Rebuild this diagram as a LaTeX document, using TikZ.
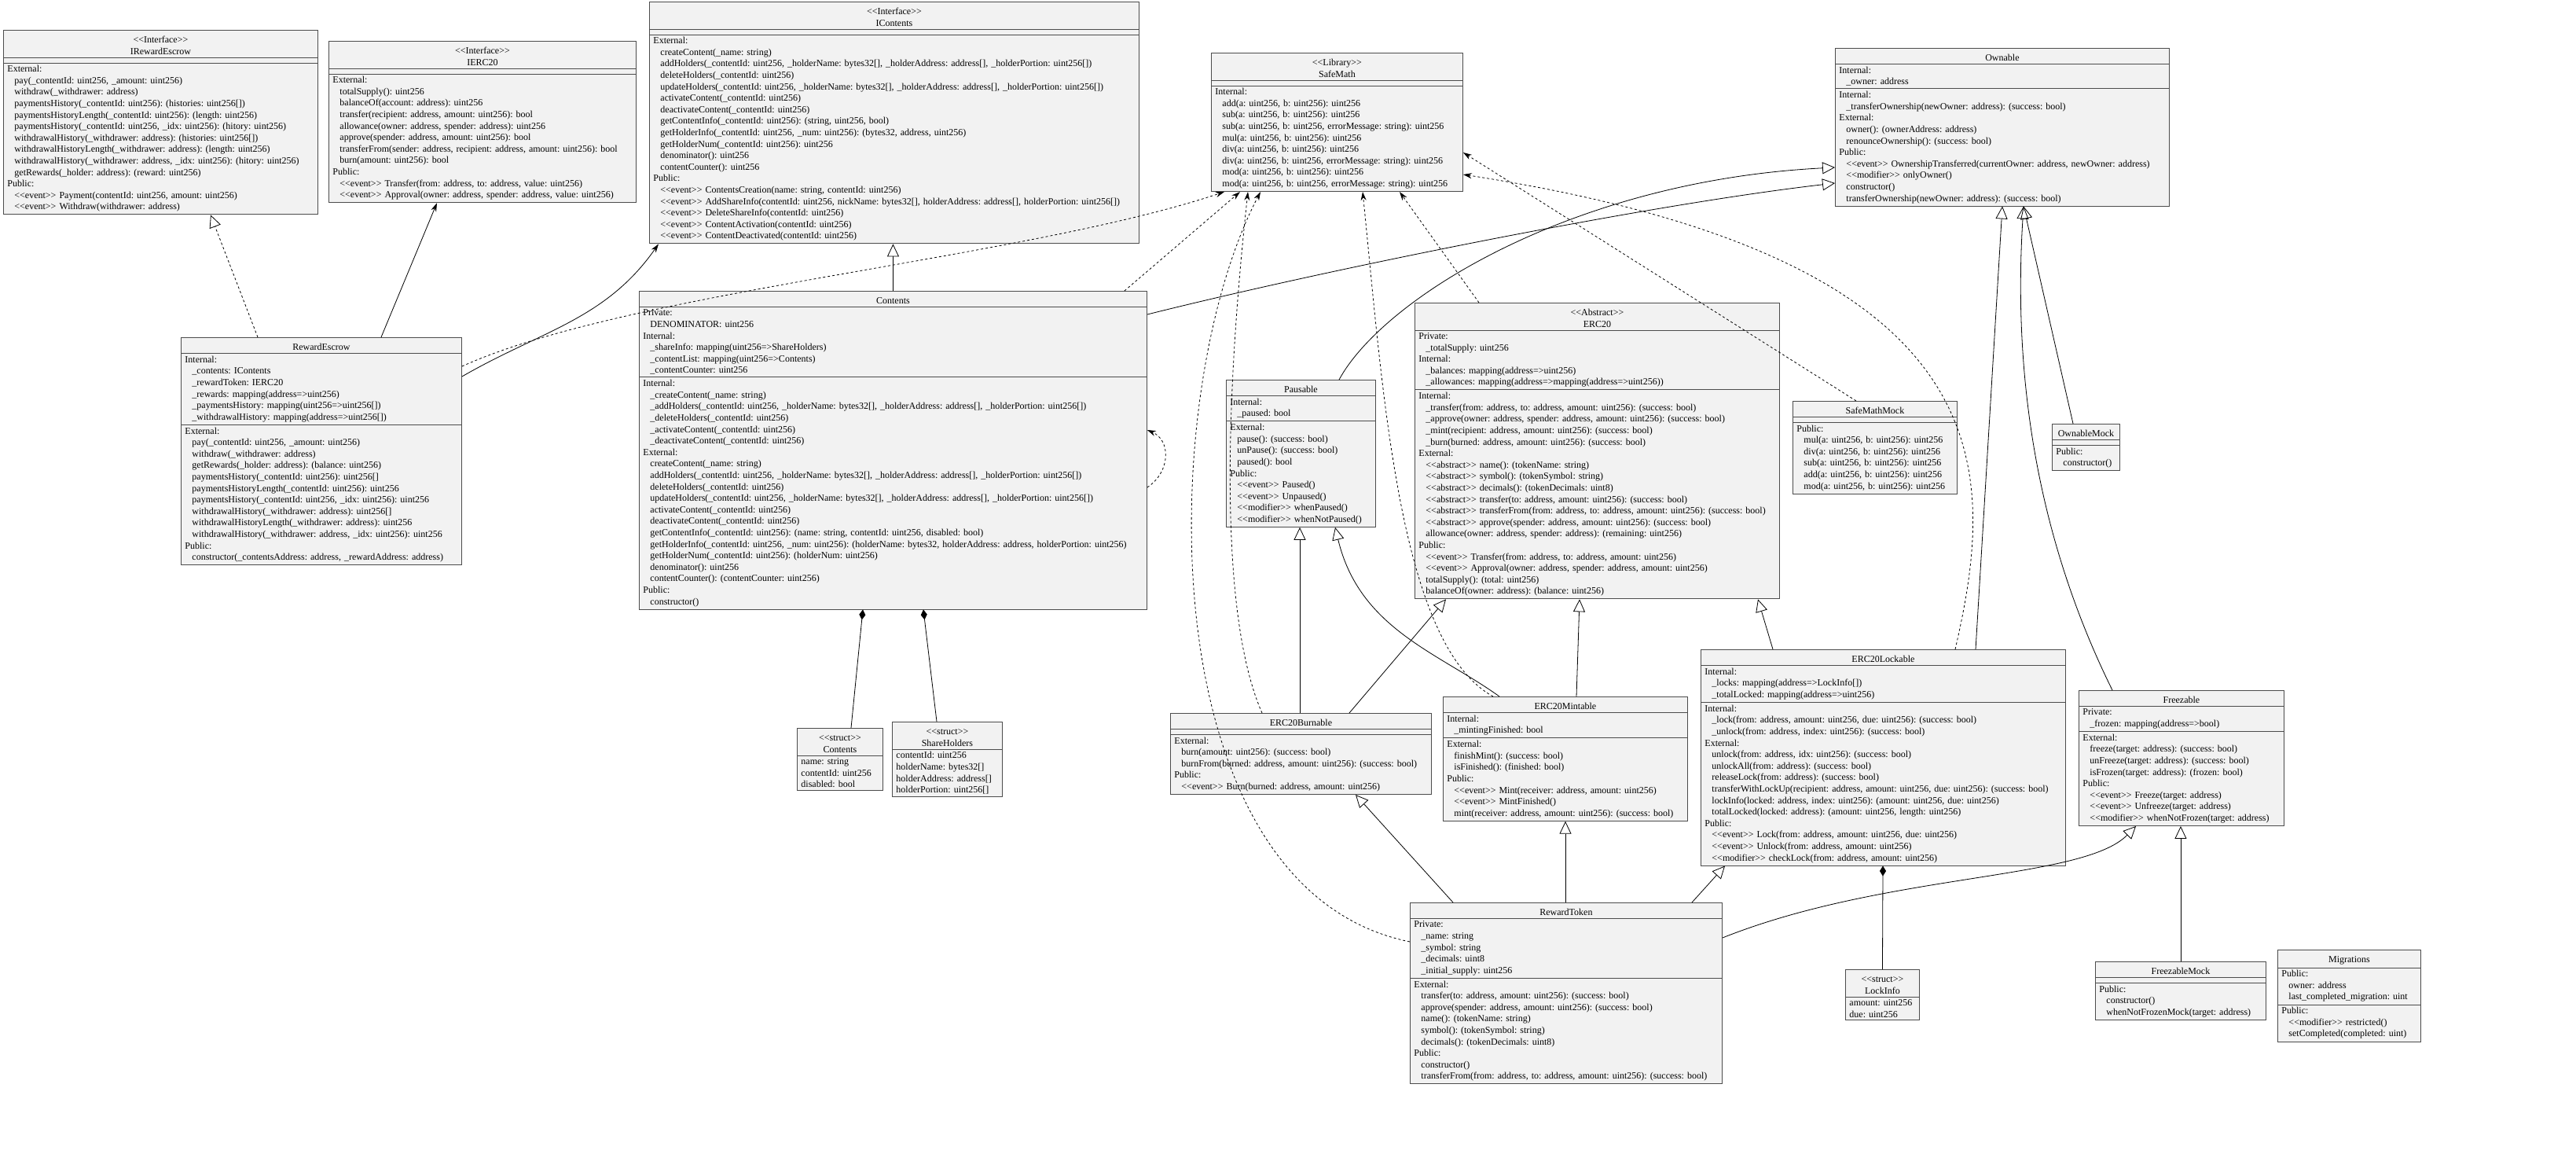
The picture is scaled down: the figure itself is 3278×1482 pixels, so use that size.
\documentclass[tikz,border=0pt]{standalone}
\usepackage{fontspec}
\setmainfont{Liberation Serif}
\frenchspacing
\usetikzlibrary{shapes.multipart,arrows.meta,calc}
\newcommand\I{\hspace*{9pt}}
\newcommand\stt[1]{<\kern0pt<#1>\kern0pt>}
\newcommand\ttl[1]{\centering\rule{0pt}{13pt}#1\par}
\newcommand\ubox[7]{\node[ub,text width=#4pt] (#1) at (#2,#3) {\ttl{#5}\nodepart{two}#6\nodepart{three}#7};}
\newcommand\stbox[6]{\node[sb,text width=#4pt] (#1) at (#2,#3) {\ttl{#5}\nodepart{two}#6};}
\tikzset{
 base/.style={draw=black!70,fill=black!5,line width=0.9pt,anchor=north west,inner xsep=5pt,inner ysep=3pt,
   font=\fontsize{12}{14.6}\selectfont\frenchspacing,rectangle split,rectangle split part fill={black!5}},
 ub/.style={base,rectangle split parts=3},
 sb/.style={base,rectangle split parts=2},
 inh/.style={-{Triangle[open,length=16pt,width=15pt]},line width=0.8pt},
 inhd/.style={inh,dashed},
 dep/.style={-{Stealth[length=11pt,width=7pt]},dashed,line width=0.8pt},
 asc/.style={-{Stealth[length=11pt,width=7pt]},line width=0.8pt},
 comp/.style={{Diamond[length=13pt,width=8pt]}-,line width=0.8pt},
}
\begin{document}
\begin{tikzpicture}[x=1pt,y=-1pt]
\useasboundingbox[fill=white] (0,0) rectangle (3278,1482);
\ubox{ire}{4}{38}{390}{\stt{Interface}\\IRewardEscrow}{\mbox{}}{External:\\
\I pay(\_contentId: uint256, \_amount: uint256)\\
\I withdraw(\_withdrawer: address)\\
\I paymentsHistory(\_contentId: uint256): (histories: uint256[])\\
\I paymentsHistoryLength(\_contentId: uint256): (length: uint256)\\
\I paymentsHistory(\_contentId: uint256, \_idx: uint256): (hitory: uint256)\\
\I withdrawalHistory(\_withdrawer: address): (histories: uint256[])\\
\I withdrawalHistoryLength(\_withdrawer: address): (length: uint256)\\
\I withdrawalHistory(\_withdrawer: address, \_idx: uint256): (hitory: uint256)\\
\I getRewards(\_holder: address): (reward: uint256)\\
Public:\\
\I \stt{event} Payment(contentId: uint256, amount: uint256)\\
\I \stt{event} Withdraw(withdrawer: address)}
\ubox{ierc}{418}{52}{381}{\stt{Interface}\\IERC20}{\mbox{}}{External:\\
\I totalSupply(): uint256\\
\I balanceOf(account: address): uint256\\
\I transfer(recipient: address, amount: uint256): bool\\
\I allowance(owner: address, spender: address): uint256\\
\I approve(spender: address, amount: uint256): bool\\
\I transferFrom(sender: address, recipient: address, amount: uint256): bool\\
\I burn(amount: uint256): bool\\
Public:\\
\I \stt{event} Transfer(from: address, to: address, value: uint256)\\
\I \stt{event} Approval(owner: address, spender: address, value: uint256)}
\ubox{icon}{826}{2}{613}{\stt{Interface}\\IContents}{\mbox{}}{External:\\
\I createContent(\_name: string)\\
\I addHolders(\_contentId: uint256, \_holderName: bytes32[], \_holderAddress: address[], \_holderPortion: uint256[])\\
\I deleteHolders(\_contentId: uint256)\\
\I updateHolders(\_contentId: uint256, \_holderName: bytes32[], \_holderAddress: address[], \_holderPortion: uint256[])\\
\I activateContent(\_contentId: uint256)\\
\I deactivateContent(\_contentId: uint256)\\
\I getContentInfo(\_contentId: uint256): (string, uint256, bool)\\
\I getHolderInfo(\_contentId: uint256, \_num: uint256): (bytes32, address, uint256)\\
\I getHolderNum(\_contentId: uint256): uint256\\
\I denominator(): uint256\\
\I contentCounter(): uint256\\
Public:\\
\I \stt{event} ContentsCreation(name: string, contentId: uint256)\\
\I \stt{event} AddShareInfo(contentId: uint256, nickName: bytes32[], holderAddress: address[], holderPortion: uint256[])\\
\I \stt{event} DeleteShareInfo(contentId: uint256)\\
\I \stt{event} ContentActivation(contentId: uint256)\\
\I \stt{event} ContentDeactivated(contentId: uint256)}
\ubox{sm}{1541}{67}{310}{\stt{Library}\\SafeMath}{\mbox{}}{Internal:\\
\I add(a: uint256, b: uint256): uint256\\
\I sub(a: uint256, b: uint256): uint256\\
\I sub(a: uint256, b: uint256, errorMessage: string): uint256\\
\I mul(a: uint256, b: uint256): uint256\\
\I div(a: uint256, b: uint256): uint256\\
\I div(a: uint256, b: uint256, errorMessage: string): uint256\\
\I mod(a: uint256, b: uint256): uint256\\
\I mod(a: uint256, b: uint256, errorMessage: string): uint256}
\ubox{ow}{2335}{61}{415}{Ownable}{Internal:\\
\I \_owner: address}{Internal:\\
\I \_transferOwnership(newOwner: address): (success: bool)\\
External:\\
\I owner(): (ownerAddress: address)\\
\I renounceOwnership(): (success: bool)\\
Public:\\
\I \stt{event} OwnershipTransferred(currentOwner: address, newOwner: address)\\
\I \stt{modifier} onlyOwner()\\
\I constructor()\\
\I transferOwnership(newOwner: address): (success: bool)}
\ubox{re}{230}{429}{347}{RewardEscrow}{Internal:\\
\I \_contents: IContents\\
\I \_rewardToken: IERC20\\
\I \_rewards: mapping(address=>uint256)\\
\I \_paymentsHistory: mapping(uint256=>uint256[])\\
\I \_withdrawalHistory: mapping(address=>uint256[])}{External:\\
\I pay(\_contentId: uint256, \_amount: uint256)\\
\I withdraw(\_withdrawer: address)\\
\I getRewards(\_holder: address): (balance: uint256)\\
\I paymentsHistory(\_contentId: uint256): uint256[]\\
\I paymentsHistoryLength(\_contentId: uint256): uint256\\
\I paymentsHistory(\_contentId: uint256, \_idx: uint256): uint256\\
\I withdrawalHistory(\_withdrawer: address): uint256[]\\
\I withdrawalHistoryLength(\_withdrawer: address): uint256\\
\I withdrawalHistory(\_withdrawer: address, \_idx: uint256): uint256\\
Public:\\
\I constructor(\_contentsAddress: address, \_rewardAddress: address)}
\ubox{ct}{813}{370}{636}{Contents}{Private:\\
\I DENOMINATOR: uint256\\
Internal:\\
\I \_shareInfo: mapping(uint256=>ShareHolders)\\
\I \_contentList: mapping(uint256=>Contents)\\
\I \_contentCounter: uint256}{Internal:\\
\I \_createContent(\_name: string)\\
\I \_addHolders(\_contentId: uint256, \_holderName: bytes32[], \_holderAddress: address[], \_holderPortion: uint256[])\\
\I \_deleteHolders(\_contentId: uint256)\\
\I \_activateContent(\_contentId: uint256)\\
\I \_deactivateContent(\_contentId: uint256)\\
External:\\
\I createContent(\_name: string)\\
\I addHolders(\_contentId: uint256, \_holderName: bytes32[], \_holderAddress: address[], \_holderPortion: uint256[])\\
\I deleteHolders(\_contentId: uint256)\\
\I updateHolders(\_contentId: uint256, \_holderName: bytes32[], \_holderAddress: address[], \_holderPortion: uint256[])\\
\I activateContent(\_contentId: uint256)\\
\I deactivateContent(\_contentId: uint256)\\
\I getContentInfo(\_contentId: uint256): (name: string, contentId: uint256, disabled: bool)\\
\I getHolderInfo(\_contentId: uint256, \_num: uint256): (holderName: bytes32, holderAddress: address, holderPortion: uint256)\\
\I getHolderNum(\_contentId: uint256): (holderNum: uint256)\\
\I denominator(): uint256\\
\I contentCounter(): (contentCounter: uint256)\\
Public:\\
\I constructor()}
\ubox{pa}{1560}{483}{180}{Pausable}{Internal:\\
\I \_paused: bool}{External:\\
\I pause(): (success: bool)\\
\I unPause(): (success: bool)\\
\I paused(): bool\\
Public:\\
\I \stt{event} Paused()\\
\I \stt{event} Unpaused()\\
\I \stt{modifier} whenPaused()\\
\I \stt{modifier} whenNotPaused()}
\ubox{er}{1800}{385}{454}{\stt{Abstract}\\ERC20}{Private:\\
\I \_totalSupply: uint256\\
Internal:\\
\I \_balances: mapping(address=>uint256)\\
\I \_allowances: mapping(address=>mapping(address=>uint256))}{Internal:\\
\I \_transfer(from: address, to: address, amount: uint256): (success: bool)\\
\I \_approve(owner: address, spender: address, amount: uint256): (success: bool)\\
\I \_mint(recipient: address, amount: uint256): (success: bool)\\
\I \_burn(burned: address, amount: uint256): (success: bool)\\
External:\\
\I \stt{abstract} name(): (tokenName: string)\\
\I \stt{abstract} symbol(): (tokenSymbol: string)\\
\I \stt{abstract} decimals(): (tokenDecimals: uint8)\\
\I \stt{abstract} transfer(to: address, amount: uint256): (success: bool)\\
\I \stt{abstract} transferFrom(from: address, to: address, amount: uint256): (success: bool)\\
\I \stt{abstract} approve(spender: address, amount: uint256): (success: bool)\\
\I allowance(owner: address, spender: address): (remaining: uint256)\\
Public:\\
\I \stt{event} Transfer(from: address, to: address, amount: uint256)\\
\I \stt{event} Approval(owner: address, spender: address, amount: uint256)\\
\I totalSupply(): (total: uint256)\\
\I balanceOf(owner: address): (balance: uint256)}
\ubox{smm}{2281}{510}{199}{SafeMathMock}{\mbox{}}{Public:\\
\I mul(a: uint256, b: uint256): uint256\\
\I div(a: uint256, b: uint256): uint256\\
\I sub(a: uint256, b: uint256): uint256\\
\I add(a: uint256, b: uint256): uint256\\
\I mod(a: uint256, b: uint256): uint256}
\ubox{om}{2611}{539}{76}{OwnableMock}{\mbox{}}{Public:\\
\I constructor()}
\stbox{sc}{1014}{926}{99}{\stt{struct}\\Contents}{name: string\\contentId: uint256\\disabled: bool}
\stbox{sh}{1135}{918}{130}{\stt{struct}\\ShareHolders}{contentId: uint256\\holderName: bytes32[]\\holderAddress: address[]\\holderPortion: uint256[]}
\ubox{bu}{1489}{907}{322}{ERC20Burnable}{\mbox{}}{External:\\
\I burn(amount: uint256): (success: bool)\\
\I burnFrom(burned: address, amount: uint256): (success: bool)\\
Public:\\
\I \stt{event} Burn(burned: address, amount: uint256)}
\ubox{mi}{1836}{886}{301}{ERC20Mintable}{Internal:\\
\I \_mintingFinished: bool}{External:\\
\I finishMint(): (success: bool)\\
\I isFinished(): (finished: bool)\\
Public:\\
\I \stt{event} Mint(receiver: address, amount: uint256)\\
\I \stt{event} MintFinished()\\
\I mint(receiver: address, amount: uint256): (success: bool)}
\ubox{lk}{2164}{826}{454}{ERC20Lockable}{Internal:\\
\I \_locks: mapping(address=>LockInfo[])\\
\I \_totalLocked: mapping(address=>uint256)}{Internal:\\
\I \_lock(from: address, amount: uint256, due: uint256): (success: bool)\\
\I \_unlock(from: address, index: uint256): (success: bool)\\
External:\\
\I unlock(from: address, idx: uint256): (success: bool)\\
\I unlockAll(from: address): (success: bool)\\
\I releaseLock(from: address): (success: bool)\\
\I transferWithLockUp(recipient: address, amount: uint256, due: uint256): (success: bool)\\
\I lockInfo(locked: address, index: uint256): (amount: uint256, due: uint256)\\
\I totalLocked(locked: address): (amount: uint256, length: uint256)\\
Public:\\
\I \stt{event} Lock(from: address, amount: uint256, due: uint256)\\
\I \stt{event} Unlock(from: address, amount: uint256)\\
\I \stt{modifier} checkLock(from: address, amount: uint256)}
\ubox{fz}{2645}{878}{251}{Freezable}{Private:\\
\I \_frozen: mapping(address=>bool)}{External:\\
\I freeze(target: address): (success: bool)\\
\I unFreeze(target: address): (success: bool)\\
\I isFrozen(target: address): (frozen: bool)\\
Public:\\
\I \stt{event} Freeze(target: address)\\
\I \stt{event} Unfreeze(target: address)\\
\I \stt{modifier} whenNotFrozen(target: address)}
\ubox{rt}{1794}{1148}{387}{RewardToken}{Private:\\
\I \_name: string\\
\I \_symbol: string\\
\I \_decimals: uint8\\
\I \_initial\_supply: uint256}{External:\\
\I transfer(to: address, amount: uint256): (success: bool)\\
\I approve(spender: address, amount: uint256): (success: bool)\\
\I name(): (tokenName: string)\\
\I symbol(): (tokenSymbol: string)\\
\I decimals(): (tokenDecimals: uint8)\\
Public:\\
\I constructor()\\
\I transferFrom(from: address, to: address, amount: uint256): (success: bool)}
\stbox{li}{2348}{1233}{84}{\stt{struct}\\LockInfo}{amount: uint256\\due: uint256}
\ubox{fm}{2666}{1223}{207}{FreezableMock}{\mbox{}}{Public:\\
\I constructor()\\
\I whenNotFrozenMock(target: address)}
\ubox{mg}{2898}{1208}{172}{Migrations}{Public:\\
\I owner: address\\
\I last\_completed\_migration: uint}{Public:\\
\I \stt{modifier} restricted()\\
\I setCompleted(completed: uint)}
% RewardEscrow edges
\draw[inhd] ($(re.north west)+(98,0)$) -- ($(ire.south west)+(264,0)$);
\draw[asc] ($(re.north west)+(255,0)$) -- ($(ierc.south west)+(138,0)$);
\draw[asc] ($(re.north east)+(0,50)$) to[out=30,in=235] ($(icon.south west)+(12,0)$);
\draw[dep] ($(re.north east)+(0,37)$) .. controls (800,370) and (1300,330) .. ($(sm.south west)+(17,0)$);
% Contents edges
\draw[inh] (ct.north) -- (ct.north |- icon.south);
\draw[dep] ($(ct.north east)+(-29,0)$) -- ($(sm.south west)+(37,0)$);
\draw[inh] ($(ct.north east)+(0,30)$) .. controls (1700,340) and (2100,260) .. ($(ow.north west)+(0,172)$);
\draw[dep] ($(ct.north east)+(0,250)$) .. controls (1490,600) and (1490,560) .. ($(ct.north east)+(0,177)$);
\draw[comp] ($(ct.south west)+(285,0)$) -- ($(sc.north west)+(69,0)$);
\draw[comp] ($(ct.south west)+(362,0)$) -- ($(sh.north west)+(57,0)$);
% Pausable
\draw[inh] ($(pa.north west)+(144,0)$) .. controls (1760,380) and (2000,230) .. ($(ow.north west)+(0,152)$);
% ERC20
\draw[dep] ($(er.north west)+(82,0)$) -- ($(sm.south west)+(240,0)$);
% SafeMathMock
\draw[dep] ($(smm.north west)+(81,0)$) -- ($(sm.north east)+(0,127)$);
% OwnableMock, Freezable, Lockable -> Ownable
\draw[inh] ($(om.north west)+(27,0)$) -- ($(ow.south west)+(240,0)$);
\draw[inh] ($(fz.north west)+(43,0)$) .. controls (2600,700) and (2560,500) .. ($(ow.south west)+(240,0)$);
\draw[inh] ($(lk.north west)+(350,0)$) -- ($(ow.south west)+(213,0)$);
\draw[dep] ($(lk.north west)+(324,0)$) .. controls (2540,600) and (2560,330) .. ($(sm.north east)+(0,155)$);
\draw[inh] ($(lk.north west)+(92,0)$) -- ($(er.south west)+(437,0)$);
\draw[comp] ($(lk.south west)+(232,0)$) -- (li.north);
% Burnable
\draw[inh] ($(bu.north west)+(165,0)$) -- ($(pa.south west)+(94,0)$);
\draw[inh] ($(bu.north west)+(228,0)$) -- ($(er.south west)+(40,0)$);
\draw[dep] ($(bu.north west)+(117,0)$) .. controls (1550,780) and (1560,500) .. ($(sm.south west)+(47,0)$);
% Mintable
\draw[inh] ($(mi.north west)+(72,0)$) .. controls (1830,830) and (1730,800) .. ($(pa.south west)+(139,0)$);
\draw[inh] ($(mi.north west)+(170,0)$) -- ($(er.south west)+(210,0)$);
\draw[dep] ($(mi.north west)+(64,0)$) .. controls (1780,820) and (1760,500) .. ($(sm.south west)+(193,0)$);
% RewardToken
\draw[inh] ($(rt.north west)+(55,0)$) -- ($(bu.south west)+(236,0)$);
\draw[inh] ($(rt.north west)+(198,0)$) -- ($(mi.south west)+(156,0)$);
\draw[inh] ($(rt.north west)+(359,0)$) -- ($(lk.south west)+(31,0)$);
\draw[inh] ($(rt.north east)+(0,45)$) .. controls (2400,1110) and (2650,1120) .. ($(fz.south west)+(73,0)$);
\draw[dep] ($(rt.north west)+(0,50)$) .. controls (1460,1130) and (1470,500) .. ($(sm.south west)+(63,0)$);
\draw[inh] (fm.north) -- (fm.north |- fz.south);
\end{tikzpicture}
\end{document}
